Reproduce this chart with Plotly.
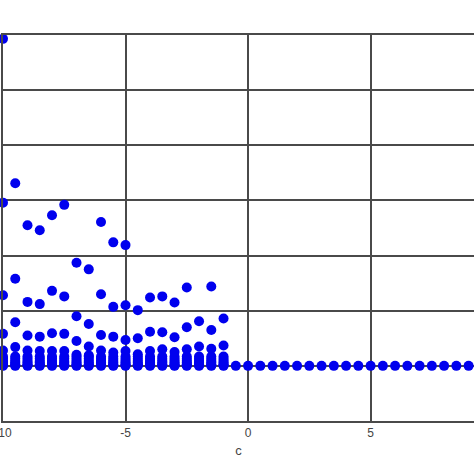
import plotly.graph_objects as go

c_values = [-10, -9.5, -9, -8.5, -8, -7.5, -7, -6.5, -6, -5.5, -5, -4.5, -4,
            -3.5, -3, -2.5, -2, -1.5, -1]

upper_values = [
    [5.93, 2.96, 1.28, 0.58, 0.28],
    [3.31, 1.58, 0.79, 0.34],
    [2.55, 1.16, 0.55, 0.28],
    [2.46, 1.12, 0.53, 0.27],
    [2.73, 1.36, 0.59, 0.27],
    [2.92, 1.26, 0.58, 0.27],
    [1.87, 0.90, 0.45, 0.20],
    [1.75, 0.76, 0.35, 0.19],
    [2.61, 1.30, 0.56, 0.28],
    [2.24, 1.07, 0.53, 0.24],
    [2.19, 1.10, 0.47, 0.27],
    [1.01, 0.50, 0.21],
    [1.24, 0.62, 0.27],
    [1.26, 0.61, 0.30],
    [1.15, 0.52, 0.25],
    [1.42, 0.70, 0.30],
    [0.81, 0.35],
    [1.44, 0.65, 0.31],
    [0.86, 0.37],
]

cluster_values = [0.17, 0.13, 0.09, 0.06, 0.03, 0.01, 0.0]

flat_c = [-0.5, 0, 0.5, 1, 1.5, 2, 2.5, 3, 3.5, 4, 4.5, 5, 5.5, 6, 6.5, 7,
          7.5, 8, 8.5, 9, 9.5, 10]
flat_values = [0] * len(flat_c)

x_tickvals = [-10, -5, 0, 5, 10]
x_ticktext = ["-10", "-5", "0", "5", "10"]

xs, ys = [], []
for c, ups in zip(c_values, upper_values):
    for v in ups + cluster_values:
        xs.append(c)
        ys.append(v)
xs += flat_c
ys += flat_values

fig = go.Figure(go.Scatter(
    x=xs, y=ys, mode="markers",
    marker=dict(color="#0000ee", size=10, line=dict(width=0)),
    cliponaxis=False,
))

grid = "#4a4a4a"
fig.update_layout(
    width=474, height=474,
    margin=dict(l=3, r=0, t=35, b=53),
    paper_bgcolor="white", plot_bgcolor="white",
    showlegend=False,
    font=dict(family="Liberation Sans, Arial, sans-serif", color="#444", size=12),
    xaxis=dict(
        range=[-10, 9.22],
        tickmode="array", tickvals=x_tickvals, ticktext=x_ticktext,
        ticklabeloverflow="allow",
        showgrid=True, gridcolor=grid, gridwidth=2,
        zeroline=False,
        showline=True, linecolor=grid, linewidth=2, mirror=True,
        ticks="", ticklen=0,
        title=dict(text="c", font=dict(size=13, color="#444"), standoff=6),
        tickfont=dict(size=12, color="#444"),
        automargin=False,
    ),
    yaxis=dict(
        range=[-1, 6], dtick=1, tick0=0,
        showgrid=True, gridcolor=grid, gridwidth=1.5,
        zeroline=False,
        showline=True, linecolor=grid, linewidth=2,
        showticklabels=False, ticks="",
        automargin=False,
    ),
)

fig.write_html("out.html",
               config={"displayModeBar": False},
               post_script="document.body.style.margin='0';document.body.style.padding='0';")
